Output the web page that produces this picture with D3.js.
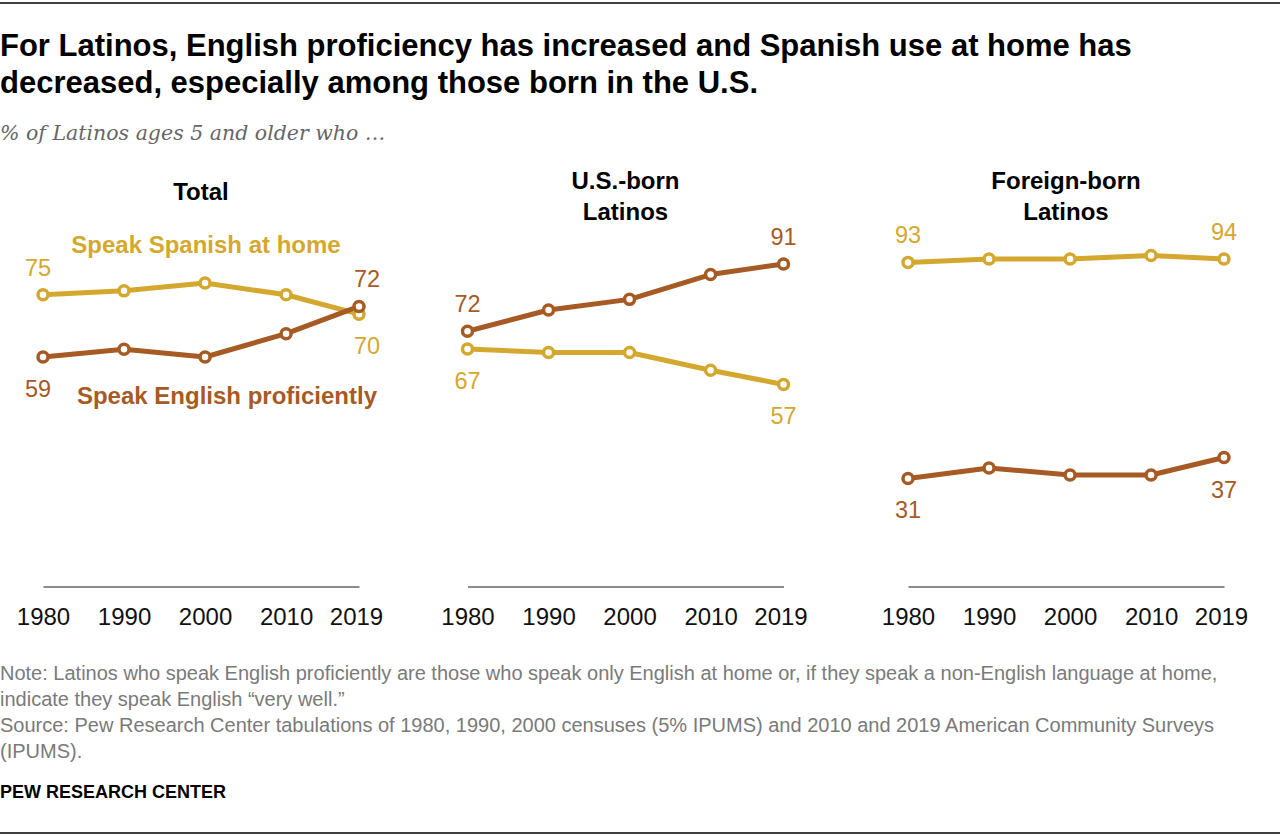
<!DOCTYPE html>
<html>
<head>
<meta charset="utf-8">
<script src="https://cdn.jsdelivr.net/npm/d3@7"></script>
<style>
  body { margin: 0; background: #fff; }
  svg { display: block; font-family: "Liberation Sans", Arial, sans-serif; }
</style>
</head>
<body>
<svg width="1280" height="837"></svg>
<script>
const WIDTH = 1280;
const HEIGHT = 837;

const GOLD = "#d4a82e";
const BROWN = "#a65a24";

// data
const years = [1980, 1990, 2000, 2010, 2019];
const panelNames = [["Total"], ["U.S.-born", "Latinos"], ["Foreign-born", "Latinos"]];
const spanishTotal = [75, 76, 78, 75, 70];
const englishTotal = [59, 61, 59, 65, 72];
const spanishUS = [67, 66, 66, 61, 57];
const englishUS = [72, 78, 81, 88, 91];
const spanishForeign = [93, 94, 94, 95, 94];
const englishForeign = [31, 34, 32, 32, 37];

const seriesNames = ["Speak Spanish at home", "Speak English proficiently"];
const noteLines = [
  "Note: Latinos who speak English proficiently are those who speak only English at home or, if they speak a non-English language at home,",
  "indicate they speak English \u201cvery well.\u201d",
  "Source: Pew Research Center tabulations of 1980, 1990, 2000 censuses (5% IPUMS) and 2010 and 2019 American Community Surveys",
  "(IPUMS)."
];

// layout per panel
const BASE_Y = 586.5;
const panels = [
  { title: panelNames[0], x0: 43, yTop: 197.5, spanish: spanishTotal, english: englishTotal },
  { title: panelNames[1], x0: 467.5, yTop: 232, spanish: spanishUS, english: englishUS },
  { title: panelNames[2], x0: 908, yTop: 238, spanish: spanishForeign, english: englishForeign }
];
const PANEL_W = 316;

const svg = d3.select("svg");

svg.append("line").attr("x1", 0).attr("x2", WIDTH).attr("y1", 3).attr("y2", 3)
  .attr("stroke", "#000").attr("stroke-width", 1.5);
svg.append("line").attr("x1", 0).attr("x2", WIDTH).attr("y1", 833).attr("y2", 833)
  .attr("stroke", "#000").attr("stroke-width", 1.5);

// title
const title = svg.append("text")
  .attr("font-size", 31).attr("font-weight", "bold").attr("fill", "#000");
title.append("tspan").attr("x", 0).attr("y", 56)
  .text("For Latinos, English proficiency has increased and Spanish use at home has");
title.append("tspan").attr("x", 0).attr("y", 93)
  .text("decreased, especially among those born in the U.S.");

svg.append("text").attr("x", 0).attr("y", 140)
  .attr("font-family", "'DejaVu Serif', Georgia, serif").attr("font-style", "italic")
  .attr("font-size", 20.5).attr("fill", "#666")
  .text("% of Latinos ages 5 and older who \u2026");

panels.forEach((p, pi) => {
  const x = d3.scaleLinear().domain([1980, 2019]).range([p.x0, p.x0 + PANEL_W]);
  const y = d3.scaleLinear().domain([0, 100]).range([BASE_Y, p.yTop]);
  const g = svg.append("g");
  const cx = p.x0 + PANEL_W / 2;

  // panel title
  const t = g.append("text").attr("text-anchor", "middle").attr("font-size", 24)
    .attr("font-weight", "bold").attr("fill", "#000");
  const tY = p.title.length === 1 ? [200] : [189, 220];
  p.title.forEach((line, i) => t.append("tspan").attr("x", cx).attr("y", tY[i]).text(line));

  // baseline axis
  const axis = g.append("g").attr("transform", `translate(0,${BASE_Y})`)
    .call(d3.axisBottom(x).tickValues(years).tickFormat(d3.format("d")).tickSize(0).tickPadding(21));
  axis.select(".domain").attr("stroke", "#8c8c8c").attr("stroke-width", 2);
  axis.selectAll("text").attr("font-size", 24).attr("fill", "#111")
    .attr("font-family", "'Liberation Sans', Arial, sans-serif")
    .attr("dx", (d) => d === 2019 ? -3 : 0);

  const series = [
    { vals: p.spanish, color: GOLD, other: p.english },
    { vals: p.english, color: BROWN, other: p.spanish }
  ];
  const line = d3.line().x((d, i) => x(years[i])).y((d) => y(d));

  series.forEach((s) => {
    g.append("path").datum(s.vals).attr("d", line)
      .attr("fill", "none").attr("stroke", s.color).attr("stroke-width", 5)
      .attr("stroke-linejoin", "round");
  });
  series.forEach((s) => {
    g.selectAll(null).data(s.vals).enter().append("circle")
      .attr("cx", (d, i) => x(years[i])).attr("cy", (d) => y(d))
      .attr("r", 5).attr("fill", "#fff").attr("stroke", s.color).attr("stroke-width", 3.5);
  });
  // value labels at first and last points
  series.forEach((s) => {
    [0, years.length - 1].forEach((i) => {
      const above = s.vals[i] > s.other[i];
      g.append("text").attr("text-anchor", "middle").attr("font-size", 23.5)
        .attr("fill", s.color)
        .attr("x", x(years[i]) + (pi === 0 ? (i === 0 ? -5 : 8) : 0))
        .attr("y", y(s.vals[i]) + (above ? -19 : 40))
        .text(s.vals[i]);
    });
  });

  if (pi === 0) {
    g.append("text").attr("x", 206).attr("y", 253).attr("text-anchor", "middle")
      .attr("font-size", 24).attr("font-weight", "bold").attr("fill", GOLD)
      .text(seriesNames[0]);
    g.append("text").attr("x", 377).attr("y", 404).attr("text-anchor", "end")
      .attr("font-size", 24).attr("font-weight", "bold").attr("fill", BROWN)
      .text(seriesNames[1]);
  }
});

// notes
const noteY = [680, 706, 732, 758];
noteLines.forEach((l, i) => {
  svg.append("text").attr("x", 0).attr("y", noteY[i]).attr("font-size", 20)
    .attr("fill", "#7a7a7a").text(l);
});
svg.append("text").attr("x", 0).attr("y", 798).attr("font-size", 18)
  .attr("font-weight", "bold").attr("fill", "#000").text("PEW RESEARCH CENTER");
</script>
</body>
</html>
